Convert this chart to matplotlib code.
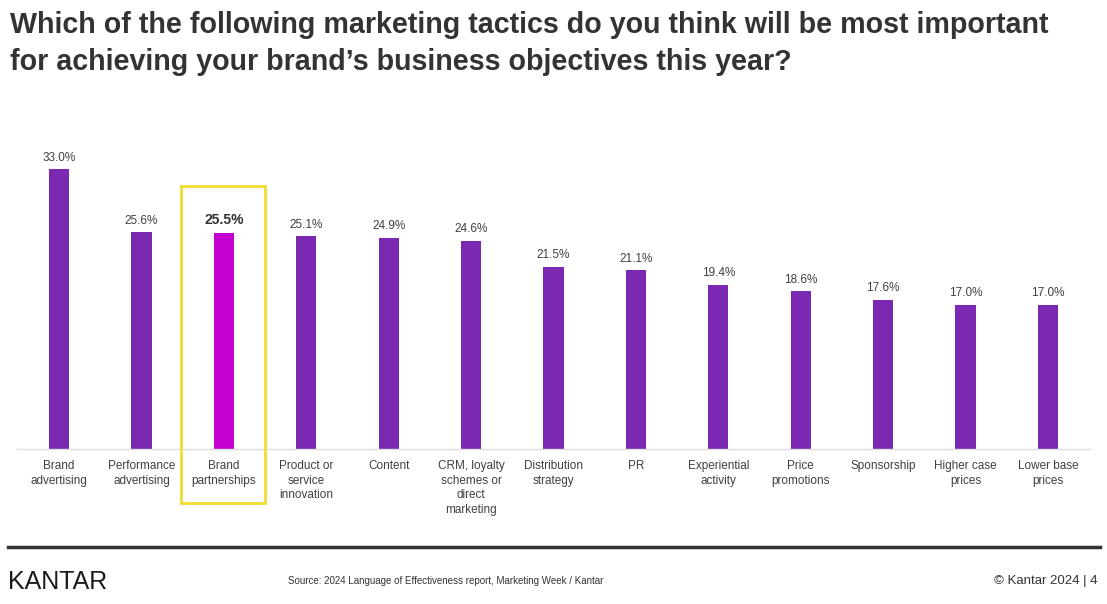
import matplotlib.pyplot as plt
from matplotlib.patches import Rectangle
import numpy as np

plt.rcParams['font.family'] = ['Liberation Sans', 'DejaVu Sans']

categories = ['Brand\nadvertising', 'Performance\nadvertising', 'Brand\npartnerships',
              'Product or\nservice\ninnovation', 'Content', 'CRM, loyalty\nschemes or\ndirect\nmarketing',
              'Distribution\nstrategy', 'PR', 'Experiential\nactivity', 'Price\npromotions',
              'Sponsorship', 'Higher case\nprices', 'Lower base\nprices']
values = [33.0, 25.6, 25.5, 25.1, 24.9, 24.6, 21.5, 21.1, 19.4, 18.6, 17.6, 17.0, 17.0]
highlight = 2

purple = '#7B28B2'
magenta = '#C400D2'
text_grey = '#404040'

fig = plt.figure(figsize=(11.07, 6.04), dpi=100)
W, H = 1107, 604
ax = fig.add_axes([17 / W, (604 - 449) / H, (1090 - 17) / W, 305 / H])

x = np.arange(len(values))
colors = [magenta if i == highlight else purple for i in x]
bars = ax.bar(x, values, width=0.245, color=colors, zorder=2)

ax.set_xlim(-0.51, len(values) - 0.49)
ax.set_ylim(0, 36)

for i, (b, v) in enumerate(zip(bars, values)):
    if i == highlight:
        ax.annotate(f'{v:.1f}%', (b.get_x() + b.get_width() / 2, v), xytext=(0, 4),
                    textcoords='offset points', ha='center', va='bottom',
                    fontsize=10, fontweight='bold', color='#333333')
    else:
        ax.annotate(f'{v:.1f}%', (b.get_x() + b.get_width() / 2, v), xytext=(0, 4),
                    textcoords='offset points', ha='center', va='bottom',
                    fontsize=8.5, color=text_grey)

ax.set_xticks(x)
ax.set_xticklabels(categories, fontsize=8.5, color=text_grey, linespacing=1.28, va='top')
ax.tick_params(axis='x', length=0, pad=8)
ax.set_yticks([])
for s in ['top', 'right', 'left']:
    ax.spines[s].set_visible(False)
ax.spines['bottom'].set_color('#dddddd')
ax.spines['bottom'].set_linewidth(1)

# yellow highlight box
fig.patches.append(Rectangle((181 / W, (604 - 503) / H), 84 / W, 317 / H,
                             transform=fig.transFigure, fill=False,
                             edgecolor='#F2DD30', linewidth=2))

# title
fig.text(10 / W, 1 - 25 / H, 'Which of the following marketing tactics do you think will be most important',
         fontsize=20.6, fontweight='bold', color='#333333', va='center', ha='left')
fig.text(10 / W, 1 - 62 / H, 'for achieving your brand\u2019s business objectives this year?',
         fontsize=20.6, fontweight='bold', color='#333333', va='center', ha='left')

# footer
fig.add_artist(plt.Line2D([8 / W, 1100 / W], [1 - 547 / H, 1 - 547 / H],
                          transform=fig.transFigure, color='#333333', linewidth=2.5))
fig.text(8 / W, 1 - 582 / H, 'KANTAR', fontsize=18, color='#1a1a1a', va='center', ha='left')
fig.text(446 / W, 1 - 581 / H, 'Source: 2024 Language of Effectiveness report, Marketing Week / Kantar',
         fontsize=7, color='#333333', va='center', ha='center')
fig.text(1098 / W, 1 - 581 / H, '\u00a9 Kantar 2024 | 4', fontsize=9.5, color='#333333',
         va='center', ha='right')

fig.savefig('out.png', dpi=100)
